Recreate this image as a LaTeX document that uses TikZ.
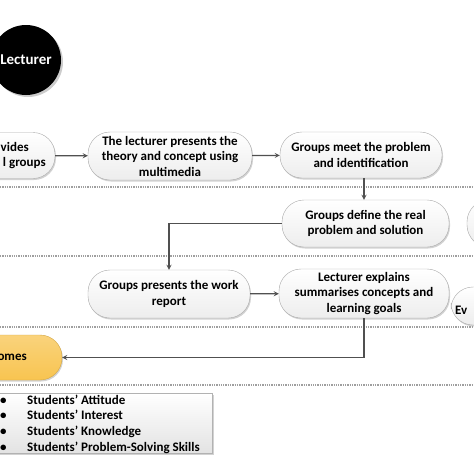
\documentclass[tikz,border=0pt]{standalone}
\usepackage{fontspec}
\setmainfont{Carlito}
\usetikzlibrary{shadows}
\definecolor{pillline}{RGB}{170,170,170}
\definecolor{arrowgray}{RGB}{80,80,80}
\definecolor{outcorange}{RGB}{248,196,80}
\begin{document}
\begin{tikzpicture}[
    x=1pt, y=-1pt,
    font=\fontsize{13}{15.5}\selectfont\bfseries,
    pill/.style={rectangle, rounded corners=22pt, draw=pillline, top color=white, bottom color=gray!14, inner sep=1pt, align=center, drop shadow={opacity=0.35, shadow xshift=1pt, shadow yshift=-1.5pt}},
    arrow/.style={->, >=stealth, line width=1.2pt, arrowgray},
    sep/.style={densely dotted, line width=1.3pt, gray!75},
]
\clip (0,0) rectangle (474,474);
\fill[white] (0,0) rectangle (474,474);

% separators
\draw[sep] (0,187) -- (474,187);
\draw[sep] (0,256) -- (474,256);
\draw[sep] (0,327) -- (474,327);
\draw[sep] (0,385) -- (474,385);

\node[circle, fill=black, text=white, minimum size=70pt, inner sep=0pt, drop shadow={opacity=0.4, shadow xshift=2pt, shadow yshift=-2pt}, font=\fontsize{15}{17}\selectfont\bfseries] (lect) at (26,60) {Lecturer};

\node[pill, minimum width=115pt, minimum height=46pt] (prov) at (-2.5,155.5) {};
\node[anchor=east, inner sep=0pt] (provA) at (29,147) {vides};
\node[anchor=east, inner sep=0pt] (provB) at (46,163) {l groups};
\node[pill, minimum width=164pt, minimum height=48pt] (theory) at (170,156) {The lecturer presents the\\theory and concept using\\multimedia};
\node[pill, minimum width=162pt, minimum height=46pt] (meet) at (361,155) {Groups meet the problem\\and identification};
\node[pill, minimum width=167pt, minimum height=47pt] (define) at (365.5,223.5) {Groups define the real\\problem and solution};
\node[pill, minimum width=93pt, minimum height=47pt] (rpart) at (513.5,223.5) {};
\node[pill, minimum width=162pt, minimum height=48pt] (report) at (169,294) {Groups presents the work\\report};
\node[pill, minimum width=170pt, minimum height=49pt] (explain) at (364,293.5) {Lecturer explains\\summarises concepts and\\learning goals};
\node[pill, minimum width=110pt, minimum height=38pt] (evpart) at (506,306) {};
\node[anchor=west, inner sep=0pt] (evtext) at (455,310) {Ev};
\node[pill, fill=none, top color=outcorange!75, bottom color=outcorange, draw=outcorange!85!black, minimum width=122pt, minimum height=45pt] (outc) at (1,357.5) {};
\node[anchor=east, inner sep=0pt] (outctext) at (27,357) {omes};

\node[rectangle, draw=gray!60, top color=white, bottom color=gray!22, minimum width=217pt, minimum height=60pt, drop shadow={opacity=0.35, shadow xshift=1.5pt, shadow yshift=-1.5pt}] (list) at (103.5,423) {};
\node[anchor=north west, align=left, inner sep=0pt, font=\fontsize{13}{15.7}\selectfont\bfseries] (listtext) at (0,394.5) {\makebox[27pt][l]{\textbullet}Students’ Attitude\\\makebox[27pt][l]{\textbullet}Students’ Interest\\\makebox[27pt][l]{\textbullet}Students’ Knowledge\\\makebox[27pt][l]{\textbullet}Students’ Problem-Solving Skills};

\draw[arrow] (prov) -- (theory);
\draw[arrow] (theory) -- (meet);
\draw[arrow] (meet.south -| 364,0) -- (define.north -| 364,0);
\draw[arrow] (define.west) -| (report.north);
\draw[arrow] (report) -- (explain);
\draw[arrow] (explain.south) |- (outc.east);
\end{tikzpicture}
\end{document}
